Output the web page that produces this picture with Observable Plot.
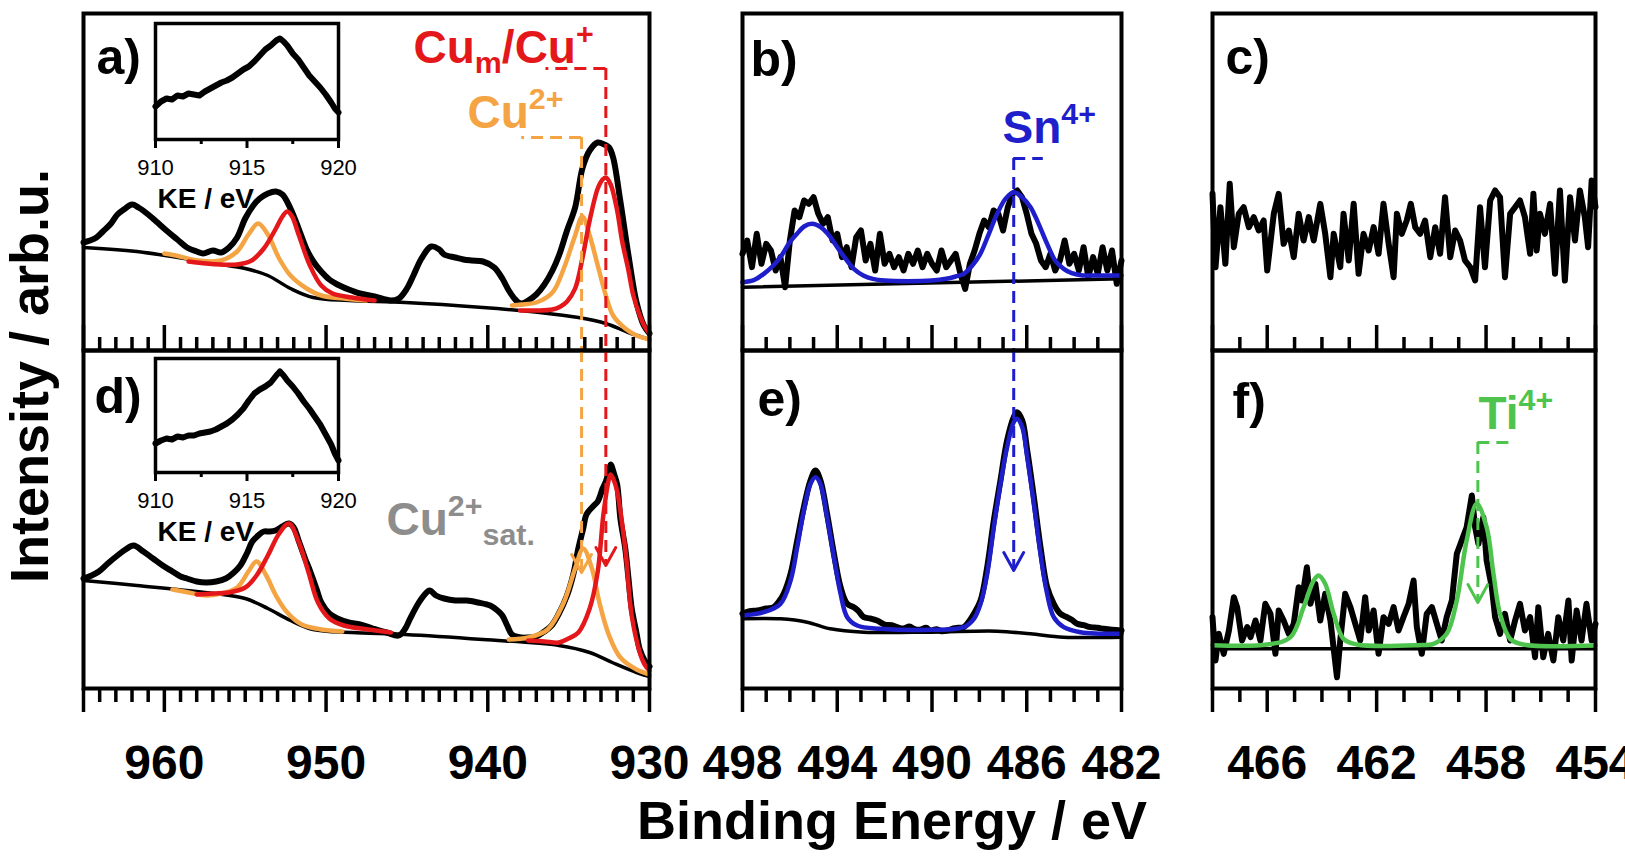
<!DOCTYPE html>
<html>
<head>
<meta charset="utf-8">
<script src="https://cdn.jsdelivr.net/npm/d3@7"></script>
<script src="https://cdn.jsdelivr.net/npm/@observablehq/plot@0.6"></script>
<style>
  html, body { margin: 0; padding: 0; background: #fff; }
  #wrap { position: relative; width: 1625px; height: 866px; overflow: hidden; background: #fff;
          font-family: "Liberation Sans", Arial, Helvetica, sans-serif; }
  .ttl { position: absolute; font-weight: bold; white-space: nowrap; line-height: 1; color: #000; }
</style>
</head>
<body>
<div id="wrap"></div>
<script>
// ---------------- DATA (binding energy in eV, intensity in arb. units) ----------------
const cuTickLabels = [960, 950, 940, 930];
const snTickLabels = [498, 494, 490, 486, 482];
const tiTickLabels = [466, 462, 458, 454];
const keTickLabels = [910, 915, 920];
const keMinorTicks = [912.5, 917.5];

// Panel a) Cu 2p, as-prepared
const aRaw = [[965.0,108],[964.6,110],[964.2,113],[963.8,119],[963.3,127],[962.9,136],[962.5,141],[962.0,146],[961.6,143],[961.0,136],[960.5,129],[959.8,119],[959.2,111],[958.6,103],[958.0,99],[957.6,97],[957.0,100],[956.5,98],[956.0,103],[955.5,113],[955.0,132],[954.5,145],[954.1,152],[953.6,157],[953.1,159],[952.7,156],[952.2,142],[951.7,122],[951.2,101],[950.7,87],[950.3,79],[949.8,71],[949.3,66],[948.6,61],[947.9,57],[947.0,54],[946.0,50],[945.5,52],[945.0,62],[944.6,75],[944.1,92],[943.5,104],[943.0,101],[942.7,96],[942.0,93],[941.5,91],[941.0,90],[940.3,89],[939.6,83],[939.1,72],[938.7,60],[938.3,51],[937.95,47],[937.5,50],[937.0,56],[936.5,66],[936.0,80],[935.6,95],[935.1,120],[934.6,143],[934.15,182],[933.7,200],[933.2,208],[932.8,206],[932.5,203],[932.25,193],[931.8,149],[931.3,95],[930.8,48],[930.35,25],[930.0,17]];
const aBg = [[965.0,103],[961.7,99],[956.9,87],[955.0,82],[953.6,75],[952.2,62],[950.8,53],[948.6,50],[945.1,48],[940.3,43],[936.8,38],[934.4,33],[932.7,27],[931.3,18],[930.0,11]];
const aCu0_2p3 = [[938.0,40],[937.0,40],[936.0,41],[935.5,44],[935.1,49],[934.6,62],[934.15,92],[933.7,130],[933.2,162],[932.9,171],[932.7,173],[932.4,166],[932.0,140],[931.7,110],[931.3,80],[931.0,55],[930.6,35],[930.3,24],[930.0,17]];
const aCu2_2p3 = [[938.5,45],[937.95,46],[937.0,48],[936.0,58],[935.3,82],[934.6,115],[934.15,134],[933.7,115],[933.2,85],[932.7,55],[932.25,35],[931.5,22],[930.8,15],[930.0,11]];
const aCu0_2p1 = [[958.5,89],[957.4,87],[956.5,86],[955.5,86],[954.6,90],[953.85,102],[953.1,122],[952.7,134],[952.4,139],[952.1,134],[951.7,116],[951.0,85],[950.3,65],[949.6,57],[948.4,53],[947.0,50]];
const aCu2_2p1 = [[960.0,97],[959.3,95],[957.9,90],[956.5,90],[955.5,99],[954.8,116],[954.2,127],[953.6,116],[952.9,92],[952.2,75],[951.2,62],[950.3,55],[948.9,52],[947.5,50]];
const aInset = [[910.0,33],[910.3,38],[910.6,41],[910.9,40],[911.2,44],[911.5,43],[911.8,46],[912.1,45],[912.4,44],[912.7,48],[913.0,51],[913.3,54],[913.6,57],[913.9,59],[914.2,62],[914.5,66],[914.8,70],[915.1,73],[915.4,78],[915.7,84],[916.0,90],[916.3,94],[916.6,99],[916.8,101],[917.0,98],[917.2,94],[917.5,86],[917.8,80],[918.1,72],[918.4,64],[918.7,58],[919.0,52],[919.3,45],[919.6,37],[919.8,31],[920.0,27]];

// Panel d) Cu 2p, after treatment
const dRaw = [[965.0,110],[964.5,113],[964.05,117],[963.5,125],[962.9,133],[962.4,139],[961.9,143],[961.3,137],[960.7,130],[960.1,123],[959.5,117],[959.0,112],[958.6,110],[958.0,107],[957.4,106],[956.8,107],[956.2,110],[955.7,116],[955.3,123],[954.9,135],[954.56,147],[954.2,153],[953.85,157],[953.5,157],[953.13,158],[952.7,162],[952.3,165],[952.0,161],[951.7,148],[951.3,130],[951.0,118],[950.6,100],[950.3,86],[949.8,75],[949.3,70],[948.6,66],[947.9,64],[947.1,60],[946.25,56],[945.5,53],[945.1,60],[944.8,70],[944.3,85],[943.9,94],[943.6,98],[943.2,93],[942.7,90],[942.0,88],[941.3,88],[940.6,86],[939.85,83],[939.4,78],[939.1,73],[938.8,63],[938.5,54],[937.95,51],[937.5,51],[937.0,52],[936.5,57],[936.05,63],[935.6,75],[935.1,93],[934.7,115],[934.4,140],[934.1,160],[933.9,174],[933.5,182],[933.2,187],[932.9,200],[932.7,207],[932.5,218],[932.4,224],[932.2,215],[932.0,204],[931.8,170],[931.5,140],[931.3,110],[931.1,80],[930.8,55],[930.6,39],[930.3,28],[930.0,22]];
const dBg = [[965.0,108],[961.7,103],[956.9,95],[955.0,90],[953.6,80],[952.2,68],[950.8,59],[948.4,56],[945.1,54],[940.3,49],[935.6,43],[933.7,36],[932.3,26],[930.8,16],[930.0,12]];
const dCu0_2p3 = [[937.5,48],[936.5,47],[935.6,46],[935.0,50],[934.4,56],[933.7,80],[933.2,117],[932.85,174],[932.5,210],[932.4,214],[932.2,208],[932.0,197],[931.5,140],[931.1,73],[930.6,36],[930.3,24],[930.0,18]];
const dCu2_2p3 = [[938.7,49],[937.5,51],[936.3,59],[935.3,86],[934.6,120],[934.1,140],[933.56,120],[933.1,86],[932.5,53],[931.8,31],[930.8,19],[930.0,14]];
const dCu0_2p1 = [[958.0,94],[956.9,95],[956.0,96],[955.0,101],[954.3,113],[953.6,133],[952.9,155],[952.3,165],[951.7,147],[951.1,117],[950.5,86],[949.8,70],[948.9,63],[947.4,59],[946.0,56]];
const dCu2_2p1 = [[959.5,99],[958.5,96],[957.4,93],[956.5,95],[955.5,101],[954.8,117],[954.3,127],[953.7,113],[953.1,93],[952.4,76],[951.5,64],[950.3,59],[949.0,57]];
const dInset = [[910.0,29],[910.3,32],[910.6,34],[910.9,33],[911.2,36],[911.5,35],[911.8,37],[912.1,37],[912.4,39],[912.7,40],[913.0,41],[913.3,43],[913.6,46],[913.9,49],[914.2,53],[914.5,58],[914.8,64],[915.1,72],[915.4,79],[915.7,83],[916.0,86],[916.3,90],[916.6,97],[916.8,101],[917.0,97],[917.2,92],[917.5,86],[917.8,79],[918.1,71],[918.4,64],[918.7,56],[919.0,48],[919.3,38],[919.6,28],[919.8,19],[920.0,12]];

// Panel b) Sn 3d, as-prepared
const bRaw = [[498.0,290],[497.8,330],[497.6,250],[497.4,350],[497.2,260],[497.0,320],[496.8,300],[496.6,240],[496.4,280],[496.2,190],[496.0,330],[495.8,420],[495.6,400],[495.4,450],[495.2,440],[495.0,460],[494.8,410],[494.6,380],[494.4,400],[494.2,330],[494.0,350],[493.8,280],[493.6,310],[493.4,250],[493.2,340],[493.0,360],[492.8,270],[492.6,320],[492.4,240],[492.2,350],[492.0,260],[491.8,290],[491.6,250],[491.4,280],[491.2,240],[491.0,290],[490.8,260],[490.6,300],[490.4,250],[490.2,290],[490.0,260],[489.8,240],[489.6,300],[489.4,250],[489.2,270],[489.0,290],[488.8,230],[488.6,185],[488.4,260],[488.2,300],[488.0,350],[487.8,390],[487.6,370],[487.4,420],[487.2,410],[487.0,360],[486.8,430],[486.6,470],[486.4,480],[486.2,460],[486.0,410],[485.8,350],[485.6,320],[485.4,270],[485.2,250],[485.0,290],[484.8,240],[484.6,270],[484.4,330],[484.2,260],[484.0,290],[483.8,240],[483.6,310],[483.4,220],[483.2,280],[483.0,230],[482.8,310],[482.6,240],[482.4,300],[482.2,200],[482.0,270]];
const bFit = [[498.0,205],[497.5,212],[497.1,230],[496.7,255],[496.4,280],[496.0,325],[495.7,350],[495.4,372],[495.06,380],[494.7,370],[494.4,350],[494.0,310],[493.7,280],[493.3,245],[492.9,225],[492.5,215],[492.0,210],[491.0,208],[490.0,210],[489.4,215],[489.0,222],[488.66,230],[488.3,255],[487.96,290],[487.6,350],[487.25,410],[486.9,455],[486.55,475],[486.2,460],[485.84,430],[485.5,380],[485.14,320],[484.8,270],[484.44,245],[484.1,232],[483.7,226],[483.0,225],[482.0,225]];
const bBg = [[498.0,190],[482.0,215]];

// Panel e) Sn 3d, after treatment
const eRaw = [[498.0,224],[497.7,232],[497.38,234],[497.0,240],[496.68,244],[496.45,262],[496.26,284],[495.97,344],[495.69,444],[495.41,544],[495.13,624],[494.92,654],[494.71,624],[494.43,524],[494.14,404],[493.86,304],[493.58,254],[493.3,244],[493.1,232],[492.88,214],[492.6,210],[492.32,204],[492.0,192],[491.7,190],[491.47,184],[491.2,180],[490.95,186],[490.77,179],[490.5,176],[490.25,182],[490.06,174],[489.8,178],[489.6,172],[489.36,174],[489.1,180],[488.9,182],[488.66,184],[488.45,200],[488.23,224],[487.95,264],[487.67,364],[487.39,504],[487.11,624],[486.83,744],[486.55,814],[486.41,829],[486.19,804],[485.98,714],[485.7,574],[485.42,424],[485.14,304],[484.86,254],[484.58,224],[484.3,214],[484.1,206],[483.87,194],[483.6,190],[483.31,184],[483.0,182],[482.75,179],[482.4,176],[482.0,174]];
const eFit = [[498.0,219],[497.1,229],[496.4,254],[495.97,324],[495.69,424],[495.41,534],[495.13,614],[494.92,634],[494.71,614],[494.43,514],[494.14,394],[493.86,284],[493.58,214],[493.16,189],[492.17,179],[490.06,176],[488.66,184],[488.23,209],[487.95,254],[487.67,344],[487.39,484],[487.11,614],[486.83,724],[486.55,799],[486.41,809],[486.19,784],[485.98,694],[485.7,554],[485.42,404],[485.14,284],[484.86,214],[484.44,184],[483.73,169],[482.0,164]];
const eBg = [[498.0,209],[496.4,209],[495.27,199],[494.29,179],[492.88,169],[490.06,169],[487.25,172],[485.84,164],[484.44,154],[482.0,154]];

// Panel c) Ti 2p, as-prepared
const cRaw = [[468.0,470],[467.89,250],[467.71,430],[467.53,260],[467.37,500],[467.22,310],[467.04,410],[466.86,430],[466.67,370],[466.49,400],[466.31,360],[466.13,390],[466.0,240],[465.76,410],[465.58,470],[465.4,320],[465.21,360],[465.03,280],[464.85,410],[464.67,330],[464.48,400],[464.3,330],[464.06,440],[463.88,350],[463.69,220],[463.57,350],[463.33,250],[463.21,410],[463.02,270],[462.84,440],[462.66,230],[462.48,350],[462.29,300],[462.11,370],[461.93,290],[461.75,440],[461.56,320],[461.38,220],[461.26,410],[461.08,350],[460.9,390],[460.75,440],[460.59,370],[460.41,350],[460.23,390],[460.04,280],[459.86,370],[459.68,290],[459.5,460],[459.31,280],[459.13,360],[458.95,330],[458.77,270],[458.58,250],[458.4,210],[458.22,430],[458.04,250],[457.85,450],[457.67,480],[457.49,460],[457.31,220],[457.12,410],[456.94,430],[456.76,450],[456.58,400],[456.39,290],[456.27,470],[456.15,300],[456.03,410],[455.85,350],[455.66,440],[455.48,230],[455.3,480],[455.12,210],[454.93,460],[454.75,330],[454.57,480],[454.39,400],[454.27,310],[454.14,510],[454.0,430]];

// Panel f) Ti 2p, after treatment
const fRaw = [[468.0,214],[467.89,84],[467.77,164],[467.59,104],[467.4,174],[467.22,274],[467.1,244],[466.92,144],[466.73,184],[466.61,154],[466.43,204],[466.25,144],[466.07,254],[465.88,224],[465.7,104],[465.58,234],[465.4,204],[465.21,164],[465.03,194],[464.85,304],[464.73,264],[464.55,364],[464.42,254],[464.24,314],[464.06,204],[463.88,284],[463.69,204],[463.45,34],[463.33,144],[463.15,284],[462.96,244],[462.78,194],[462.6,144],[462.42,274],[462.29,174],[462.11,234],[461.93,104],[461.75,214],[461.56,194],[461.38,244],[461.2,174],[461.02,214],[460.83,254],[460.65,324],[460.53,184],[460.35,104],[460.17,224],[459.98,244],[459.8,194],[459.62,144],[459.44,214],[459.25,264],[459.07,404],[458.89,444],[458.71,484],[458.52,579],[458.4,484],[458.28,434],[458.1,514],[457.98,384],[457.79,304],[457.67,214],[457.49,164],[457.31,224],[457.12,144],[456.94,204],[456.76,254],[456.58,174],[456.39,214],[456.21,94],[456.09,244],[455.91,94],[455.73,164],[455.54,84],[455.36,214],[455.18,144],[454.99,264],[454.87,84],[454.69,234],[454.51,144],[454.33,254],[454.14,144],[454.0,194]];
const fFit = [[468.0,130],[466.0,132],[465.15,154],[464.67,244],[464.3,324],[464.12,339],[463.88,314],[463.57,224],[463.21,149],[462.72,132],[460.5,130],[459.92,134],[459.44,164],[459.07,264],[458.71,444],[458.34,554],[457.98,484],[457.73,344],[457.49,224],[457.12,149],[456.64,132],[454.0,129]];
const fBg = [[468.0,119],[454.0,119]];

// Peak markers (peak position in eV, bracket end in eV, bracket level and arrow tip in intensity units)
const cuMetalMarker = [{be: 932.7, bracketTo: 936.4, level: 282, tip: 123}];
const cu2Marker     = [{be: 934.2, bracketTo: 937.9, level: 213, tip: 116}];
const snMarker      = [{be: 486.55, bracketTo: 485.3, level: 576, tip: 354}];
const tiMarker      = [{be: 458.3, bracketTo: 456.95, level: 738, tip: 258}];

// Labels
const panelLetters = ["a)", "b)", "c)", "d)", "e)", "f)"];
const speciesLabels = {cuMetal: "Cu_{m}/Cu^{+}", cu2: "Cu^{2+}", cuSat: "Cu^{2+}_{sat.}", sn: "Sn^{4+}", ti: "Ti^{4+}"};
const xTitle = "Binding Energy / eV";
const yTitle = "Intensity / arb.u.";
const keTitle = "KE / eV";

// ---------------- STYLE ----------------
const FONT = "'Liberation Sans', Arial, Helvetica, sans-serif";
const RED = "#e4171b", ORANGE = "#f4a443", BLUE = "#1e1ecb", GREEN = "#4ec44e", GRAY = "#8d8d8d";
const DASH = "12,7";
const FIT_W = 4.5;
const wrap = document.getElementById("wrap");

function rich(svg) {
  d3.select(svg).selectAll("text").each(function () {
    const t = this.textContent;
    if (!/[_^]\{/.test(t)) return;
    const fs = parseFloat(getComputedStyle(this).fontSize);
    const parts = []; const re = /([_^])\{([^}]*)\}|([^_^]+)/g; let m;
    while ((m = re.exec(t))) parts.push(m[1] ? {k: m[1], s: m[2]} : {k: "", s: m[3]});
    while (this.firstChild) this.removeChild(this.firstChild);
    let shift = 0;
    for (const p of parts) {
      const ts = document.createElementNS("http://www.w3.org/2000/svg", "tspan");
      const target = p.k === "^" ? -0.40 * fs : p.k === "_" ? 0.22 * fs : 0;
      ts.setAttribute("dy", (target - shift).toFixed(2)); shift = target;
      if (p.k) ts.setAttribute("font-size", (0.66 * fs).toFixed(1));
      ts.textContent = p.s;
      this.appendChild(ts);
    }
  });
}

function place(svg, left, top) {
  svg.style.position = "absolute";
  svg.style.left = left + "px";
  svg.style.top = top + "px";
  wrap.appendChild(svg);
  rich(svg);
}

function makePanel({left, top, w, h, xDomain, yDomain, bottomAxis, marks}) {
  const m = 8, mb = bottomAxis ? 130 : 8;
  const svg = Plot.plot({
    width: w + 2 * m, height: h + m + mb,
    marginLeft: m, marginRight: m, marginTop: m, marginBottom: mb,
    x: {domain: xDomain, axis: null},
    y: {domain: yDomain, axis: null},
    style: {background: "transparent", overflow: "visible"},
    marks
  });
  place(svg, left - m, top - m);
}

const line = (data, stroke, sw, curve = "linear") =>
  Plot.line(data, {x: d => d[0], y: d => d[1], stroke, strokeWidth: sw, curve, strokeLinejoin: "round", strokeLinecap: "round"});

const inTicks = (minor, major, h) => [
  Plot.tickX(minor, {x: d => d, insetTop: h - 13, stroke: "black", strokeWidth: 3.5}),
  Plot.tickX(major, {x: d => d, insetTop: h - 25, stroke: "black", strokeWidth: 3.5})
];
const outTicks = (minor, major, h, labels) => [
  Plot.tickX(minor, {x: d => d, insetTop: h, insetBottom: -14, stroke: "black", strokeWidth: 3.5}),
  Plot.tickX(major, {x: d => d, insetTop: h, insetBottom: -24, stroke: "black", strokeWidth: 3.5}),
  Plot.text(labels, {x: d => d, text: d => String(d), frameAnchor: "bottom", lineAnchor: "top", dy: 56,
    fontSize: 48, fontWeight: "bold", fontFamily: FONT, fill: "black"})
];

const vShape = {draw(ctx, l) { ctx.moveTo(-0.55 * l, -l); ctx.lineTo(0, 0); ctx.lineTo(0.55 * l, -l); }};
function arrowHead(data, stroke) {
  return Plot.vector(data, {x: "be", y: "tip", length: 18, rotate: 0, anchor: "start", shape: vShape,
    stroke, strokeWidth: 3, fill: "none"});
}
const bracket = (data, stroke) => [
  Plot.ruleY(data, {y: "level", x1: "be", x2: "bracketTo", stroke, strokeWidth: 3, strokeDasharray: DASH}),
  Plot.ruleX(data, {x: "be", y1: "level", y2: 0, stroke, strokeWidth: 3, strokeDasharray: DASH})
];
const drop = (data, stroke, yMax) => [
  Plot.ruleX(data, {x: "be", y1: yMax, y2: "tip", stroke, strokeWidth: 3, strokeDasharray: DASH}),
  arrowHead(data, stroke)
];

const label = (txt, dx, dy, fontSize, fill) =>
  Plot.text([txt], {text: d => d, frameAnchor: "top-left", textAnchor: "start", lineAnchor: "bottom",
    dx, dy, fontSize, fontWeight: "bold", fontFamily: FONT, fill});

// tick sets
const cuMinor = d3.range(931, 965).filter(v => v % 10 !== 0);
const cuMajor = [965, 960, 950, 940, 930];
const snMinor = d3.range(483, 498).filter(v => v % 4 !== 2);
const snMajor = [498, 494, 490, 486, 482];
const tiMinor = d3.range(455, 468).filter(v => v % 4 !== 2);
const tiMajor = [468, 466, 462, 458, 454];

// geometry of the six panels (pixels)
const C1 = {left: 83, w: 566, xDomain: [965, 930]};
const C2 = {left: 742, w: 379, xDomain: [498, 482]};
const C3 = {left: 1212, w: 383, xDomain: [468, 454]};
const R1 = {top: 13, h: 337};
const R2 = {top: 350, h: 338};

// a)
makePanel({...C1, ...R1, yDomain: [0, 337], marks: [
  line(aRaw, "black", 6, "catmull-rom"),
  line(aBg, "black", 3.5, "catmull-rom"),
  line(aCu2_2p1, ORANGE, FIT_W, "catmull-rom"),
  line(aCu2_2p3, ORANGE, FIT_W, "catmull-rom"),
  line(aCu0_2p1, RED, FIT_W, "catmull-rom"),
  line(aCu0_2p3, RED, FIT_W, "catmull-rom"),
  ...bracket(cu2Marker, ORANGE),
  ...bracket(cuMetalMarker, RED),
  ...inTicks(cuMinor, cuMajor, 337),
  Plot.frame({stroke: "black", strokeWidth: 4}),
  label(panelLetters[0], 13, 60, 50, "black"),
  label(speciesLabels.cuMetal, 330, 49, 46, RED),
  label(speciesLabels.cu2, 384, 114, 46, ORANGE)
]});
// d)
makePanel({...C1, ...R2, yDomain: [0, 338], bottomAxis: true, marks: [
  line(dRaw, "black", 6, "catmull-rom"),
  line(dBg, "black", 3.5, "catmull-rom"),
  line(dCu2_2p1, ORANGE, FIT_W, "catmull-rom"),
  line(dCu2_2p3, ORANGE, FIT_W, "catmull-rom"),
  line(dCu0_2p1, RED, FIT_W, "catmull-rom"),
  line(dCu0_2p3, RED, FIT_W, "catmull-rom"),
  ...drop(cu2Marker, ORANGE, 338),
  ...drop(cuMetalMarker, RED, 338),
  ...outTicks(cuMinor, cuMajor, 338, cuTickLabels),
  Plot.frame({stroke: "black", strokeWidth: 4}),
  label(panelLetters[3], 11, 62, 50, "black"),
  label(speciesLabels.cuSat, 303, 184, 46, GRAY)
]});
// b)
makePanel({...C2, ...R1, yDomain: [0, 1011], marks: [
  line(bRaw, "black", 6),
  line(bBg, "black", 3.5),
  line(bFit, BLUE, FIT_W, "catmull-rom"),
  ...bracket(snMarker, BLUE),
  ...inTicks(snMinor, snMajor, 337),
  Plot.frame({stroke: "black", strokeWidth: 4}),
  label(panelLetters[1], 8, 62, 50, "black"),
  label(speciesLabels.sn, 260, 129, 46, BLUE)
]});
// e)
makePanel({...C2, ...R2, yDomain: [0, 1014], bottomAxis: true, marks: [
  line(eRaw, "black", 6, "catmull-rom"),
  line(eBg, "black", 3.5, "catmull-rom"),
  line(eFit, BLUE, FIT_W, "catmull-rom"),
  ...drop(snMarker, BLUE, 1014),
  ...outTicks(snMinor, snMajor, 338, snTickLabels),
  Plot.frame({stroke: "black", strokeWidth: 4}),
  label(panelLetters[4], 15, 65, 50, "black")
]});
// c)
makePanel({...C3, ...R1, yDomain: [0, 1011], marks: [
  line(cRaw, "black", 6),
  ...inTicks(tiMinor, tiMajor, 337),
  Plot.frame({stroke: "black", strokeWidth: 4}),
  label(panelLetters[2], 13, 60, 50, "black")
]});
// f)
makePanel({...C3, ...R2, yDomain: [0, 1014], bottomAxis: true, marks: [
  line(fRaw, "black", 6),
  line(fBg, "black", 3.5),
  line(fFit, GREEN, FIT_W, "catmull-rom"),
  Plot.ruleY(tiMarker, {y: "level", x1: "be", x2: "bracketTo", stroke: GREEN, strokeWidth: 3, strokeDasharray: DASH}),
  Plot.ruleX(tiMarker, {x: "be", y1: "level", y2: "tip", stroke: GREEN, strokeWidth: 3, strokeDasharray: DASH}),
  arrowHead(tiMarker, GREEN),
  ...outTicks(tiMinor, tiMajor, 338, tiTickLabels),
  Plot.frame({stroke: "black", strokeWidth: 4}),
  label(panelLetters[5], 20, 67, 50, "black"),
  label(speciesLabels.ti, 266, 78, 46, GREEN)
]});

// insets (Cu LMM Auger, kinetic energy)
function makeInset({left, top, w, h, data}) {
  const mL = 30, mR = 30, mT = 6, mB = 80;
  const svg = Plot.plot({
    width: w + mL + mR, height: h + mT + mB,
    marginLeft: mL, marginRight: mR, marginTop: mT, marginBottom: mB,
    x: {domain: [910, 920], axis: null},
    y: {domain: [0, h], axis: null},
    style: {background: "transparent", overflow: "visible"},
    marks: [
      line(data, "black", 6),
      Plot.frame({stroke: "black", strokeWidth: 3.5}),
      Plot.tickX(keTickLabels, {x: d => d, insetTop: h, insetBottom: -9, stroke: "black", strokeWidth: 3}),
      Plot.tickX(keMinorTicks, {x: d => d, insetTop: h, insetBottom: -5, stroke: "black", strokeWidth: 3}),
      Plot.text(keTickLabels, {x: d => d, text: d => String(d), frameAnchor: "bottom", lineAnchor: "top", dy: 20,
        fontSize: 22, fontFamily: FONT, fill: "black"}),
      Plot.text([keTitle], {text: d => d, frameAnchor: "bottom-left", textAnchor: "start", lineAnchor: "bottom",
        dx: 2, dy: 68, fontSize: 28, fontWeight: "bold", fontFamily: FONT, fill: "black"})
    ]
  });
  place(svg, left - mL, top - mT);
}
makeInset({left: 155, top: 23, w: 183, h: 116, data: aInset});
makeInset({left: 155, top: 358, w: 183, h: 114, data: dInset});

// axis titles
const xt = document.createElement("div");
xt.className = "ttl"; xt.textContent = xTitle;
Object.assign(xt.style, {left: "892px", top: "793px", fontSize: "54px", transform: "translateX(-50%)"});
wrap.appendChild(xt);
const yt = document.createElement("div");
yt.className = "ttl"; yt.textContent = yTitle;
Object.assign(yt.style, {left: "29px", top: "376px", fontSize: "54px", transform: "translate(-50%,-50%) rotate(-90deg)"});
wrap.appendChild(yt);
</script>
</body>
</html>
